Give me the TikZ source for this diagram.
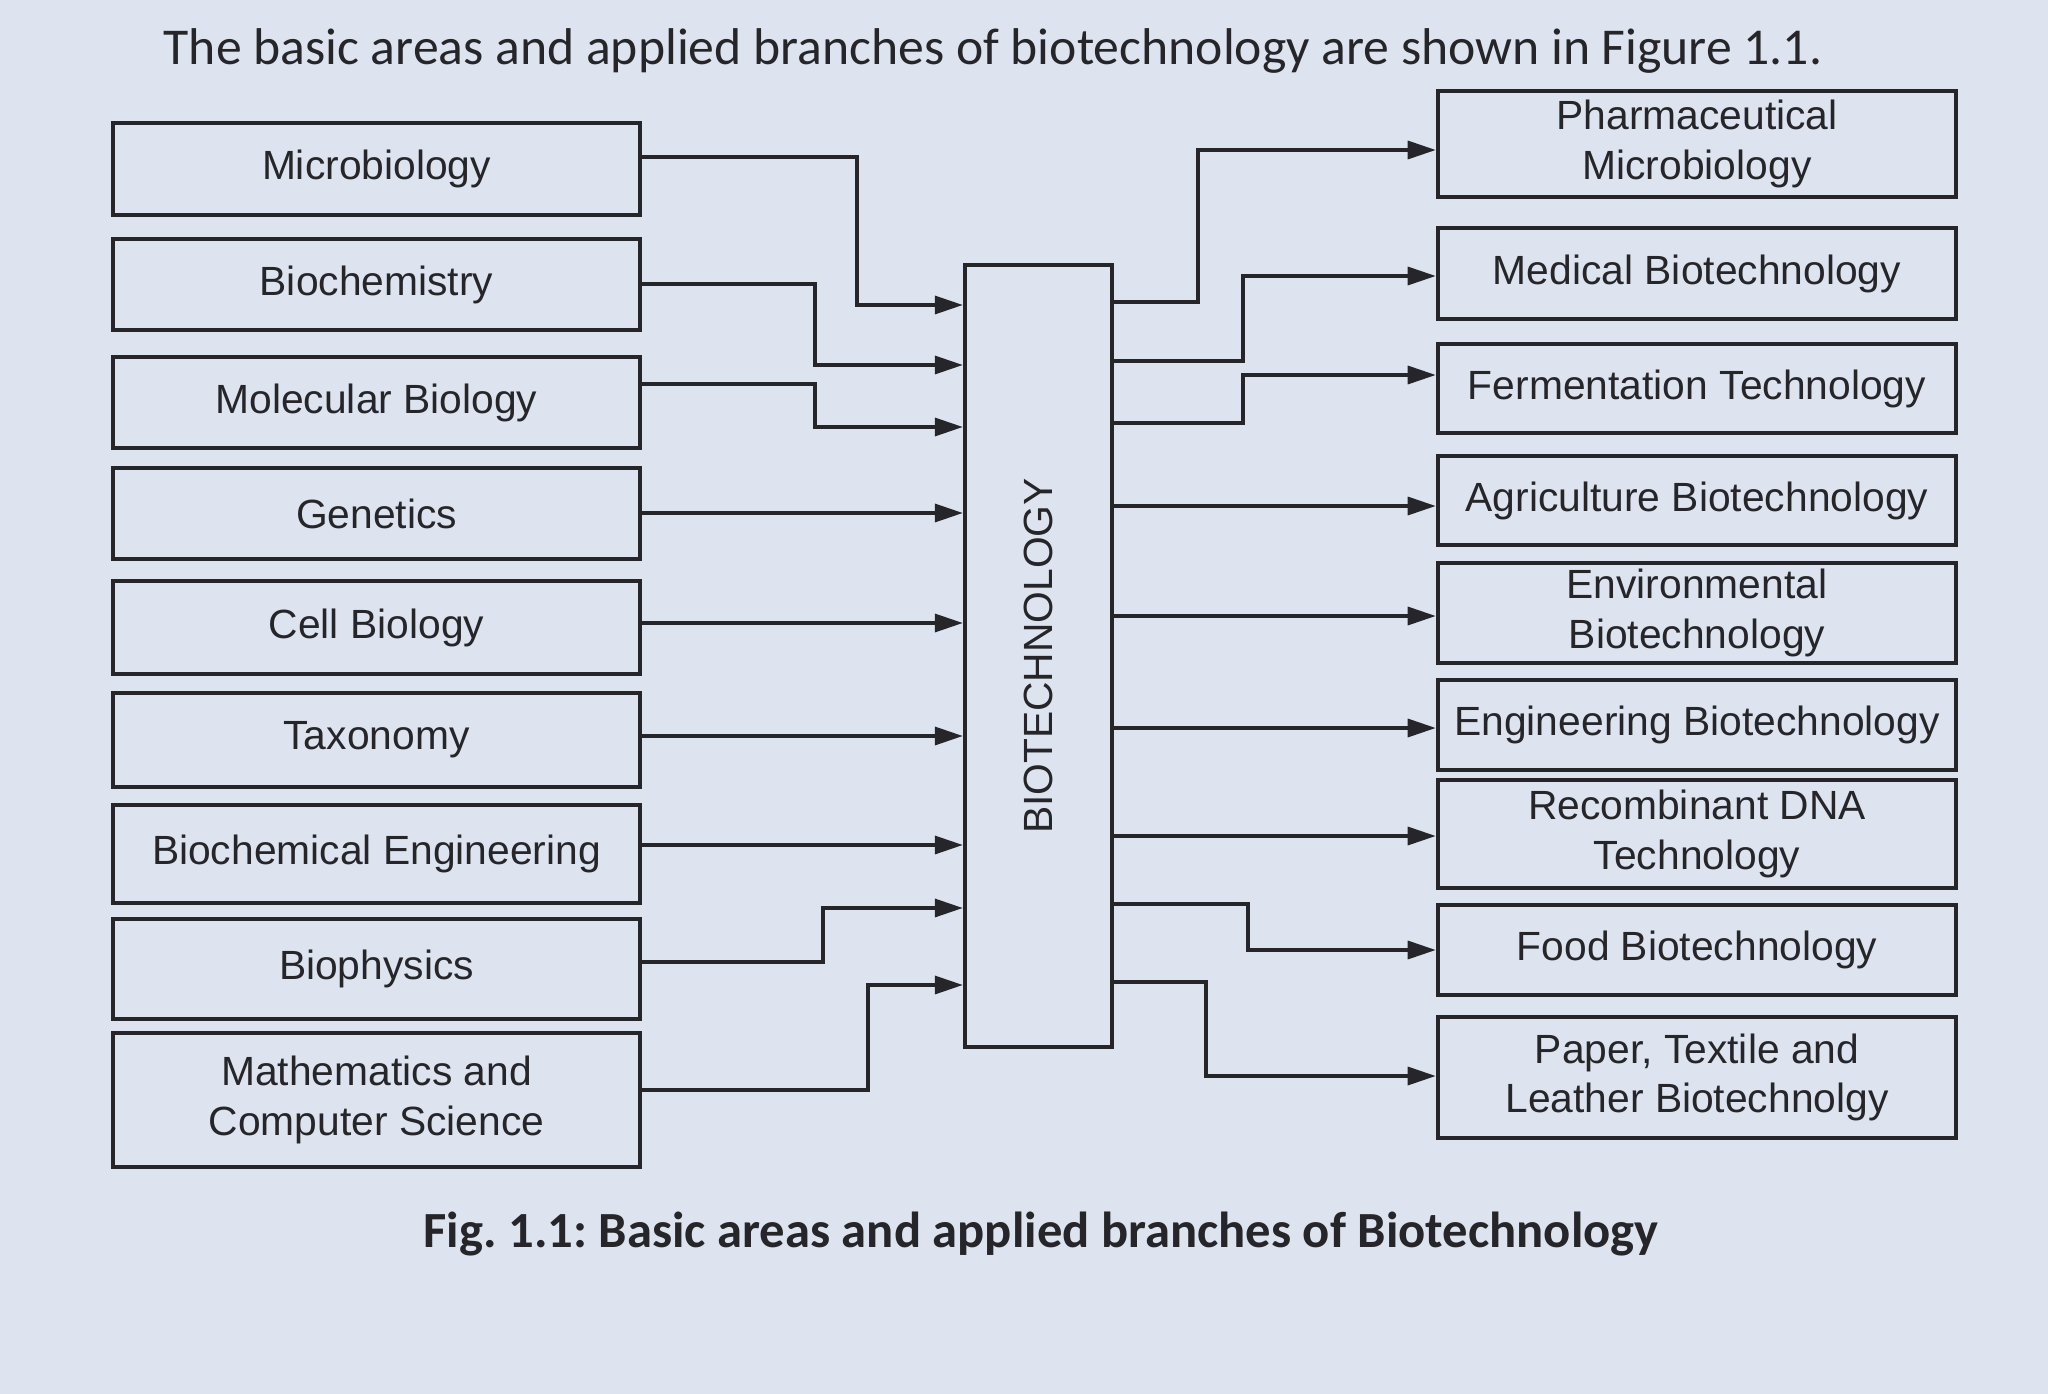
\documentclass[tikz,border=0pt]{standalone}
\usepackage{fontspec}
\setmainfont{Liberation Sans}
\newfontfamily\calib{Carlito}
\usetikzlibrary{arrows.meta}
\definecolor{paperbg}{RGB}{221,228,239}
\definecolor{ink}{RGB}{38,38,42}
\begin{document}
\frenchspacing
\begin{tikzpicture}[x=0.01cm,y=-0.01cm,
  box/.style={draw=ink, line width=1.2pt, text=ink, align=center, inner sep=0pt,
              font=\fontsize{11.6}{14}\selectfont},
  lbox/.style={box, minimum width=5.27cm},
  rbox/.style={box, minimum width=5.18cm},
  arr/.style={draw=ink, line width=0.95pt, -{Triangle[length=2.8mm,width=1.8mm]}}]
\fill[paperbg] (0,0) rectangle (2048,1394);
\useasboundingbox (0,0) rectangle (2048,1394);

\node[anchor=base west, text=ink, inner sep=0pt, font=\calib\fontsize{14.7}{18}\selectfont] (title) at (163,65)
  {The basic areas and applied branches of biotechnology are shown in Figure 1.1.};

% left boxes
\node[lbox, minimum height=0.92cm] (micro)    at (376.5,169)   {Microbiology};
\node[lbox, minimum height=0.91cm] (biochem)  at (376.5,284.5) {Biochemistry};
\node[lbox, minimum height=0.91cm] (molbio)   at (376.5,402.5) {Molecular Biology};
\node[lbox, minimum height=0.91cm] (genetics) at (376.5,513.5) {Genetics};
\node[lbox, minimum height=0.93cm] (cell)     at (376.5,627.5) {Cell Biology};
\node[lbox, minimum height=0.94cm] (taxo)     at (376.5,740)   {Taxonomy};
\node[lbox, minimum height=0.98cm] (bioeng)   at (376.5,854)   {Biochemical Engineering};
\node[lbox, minimum height=1.00cm] (biophys)  at (376.5,969)   {Biophysics};
\node[lbox, minimum height=1.34cm] (math)     at (376.5,1100)  {Mathematics and\\Computer Science};

% central box
\node[box, rotate=90, minimum width=7.82cm, minimum height=1.47cm] (bio) at (1038.5,656) {BIOTECHNOLOGY};

% right boxes
\node[rbox, minimum height=1.06cm] (pharma)  at (1697,144)    {Pharmaceutical\\Microbiology};
\node[rbox, minimum height=0.91cm] (medical) at (1697,273.5)  {Medical Biotechnology};
\node[rbox, minimum height=0.89cm] (ferm)    at (1697,388.5)  {Fermentation Technology};
\node[rbox, minimum height=0.89cm] (agri)    at (1697,500.5)  {Agriculture Biotechnology};
\node[rbox, minimum height=1.00cm] (env)     at (1697,613)    {Environmental\\Biotechnology};
\node[rbox, minimum height=0.90cm] (eng)     at (1697,725)    {Engineering Biotechnology};
\node[rbox, minimum height=1.08cm] (recomb)  at (1697,834)    {Recombinant DNA\\Technology};
\node[rbox, minimum height=0.90cm] (food)    at (1697,950)    {Food Biotechnology};
\node[rbox, minimum height=1.21cm] (paperb)  at (1697,1077.5) {Paper, Textile and\\Leather Biotechnolgy};

% left connectors
\draw[arr] (micro.east |- 0,157) -| (857,305) -- (bio.north |- 0,305);
\draw[arr] (biochem.east |- 0,284) -| (815,365) -- (bio.north |- 0,365);
\draw[arr] (molbio.east |- 0,384) -| (815,427) -- (bio.north |- 0,427);
\draw[arr] (genetics.east |- 0,513) -- (bio.north |- 0,513);
\draw[arr] (cell.east |- 0,623) -- (bio.north |- 0,623);
\draw[arr] (taxo.east |- 0,736) -- (bio.north |- 0,736);
\draw[arr] (bioeng.east |- 0,845) -- (bio.north |- 0,845);
\draw[arr] (biophys.east |- 0,962) -| (823,908) -- (bio.north |- 0,908);
\draw[arr] (math.east |- 0,1090) -| (868,985) -- (bio.north |- 0,985);

% right connectors
\draw[arr] (bio.south |- 0,302) -| (1198,150) -- (pharma.west |- 0,150);
\draw[arr] (bio.south |- 0,361) -| (1243,276) -- (medical.west |- 0,276);
\draw[arr] (bio.south |- 0,423) -| (1243,375) -- (ferm.west |- 0,375);
\draw[arr] (bio.south |- 0,506) -- (agri.west |- 0,506);
\draw[arr] (bio.south |- 0,616) -- (env.west |- 0,616);
\draw[arr] (bio.south |- 0,728) -- (eng.west |- 0,728);
\draw[arr] (bio.south |- 0,836) -- (recomb.west |- 0,836);
\draw[arr] (bio.south |- 0,904) -| (1248,950) -- (food.west |- 0,950);
\draw[arr] (bio.south |- 0,982) -| (1206,1076) -- (paperb.west |- 0,1076);

\node[anchor=base, text=ink, inner sep=0pt, font=\calib\bfseries\fontsize{14.4}{18}\selectfont] (caption) at (1041,1247)
  {Fig. 1.1: Basic areas and applied branches of Biotechnology};
\end{tikzpicture}
\end{document}
